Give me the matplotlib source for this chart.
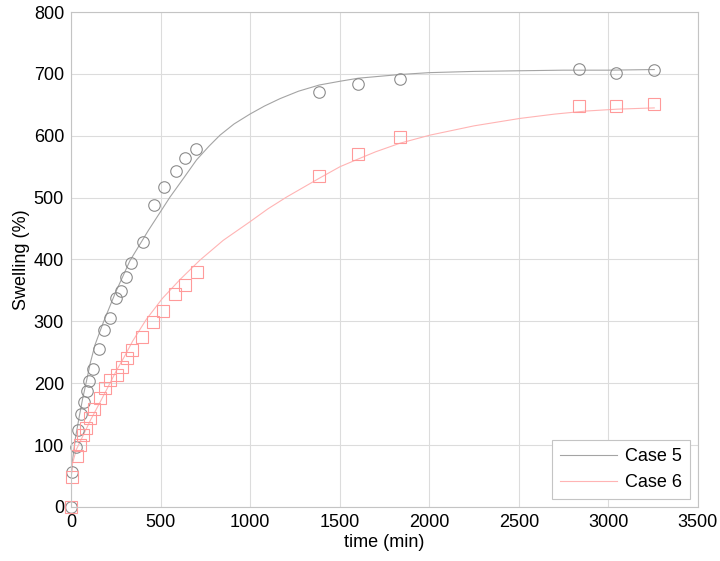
import numpy as np
import matplotlib
matplotlib.use("Agg")
import matplotlib.pyplot as plt

plt.rcParams['font.family'] = ['Liberation Sans', 'DejaVu Sans']

# measured points, case 5 (circles)
t5 = [0, 7, 26, 41, 54, 73, 87, 102, 125, 158, 186, 218, 251, 279, 307, 335,
      402, 463, 519, 586, 636, 698, 1386, 1604, 1837, 2838, 3040, 3256]
s5 = [0, 57, 97, 124, 150, 170, 188, 204, 223, 255, 286, 305, 337, 349, 371, 394,
      428, 488, 517, 543, 564, 578, 671, 683, 691, 708, 701, 706]

# measured points, case 6 (squares)
t6 = [0, 4, 32, 50, 69, 84, 106, 130, 162, 190, 218, 255, 283, 311, 339, 395,
      460, 515, 580, 636, 701, 1386, 1604, 1837, 2838, 3040, 3256]
s6 = [0, 49, 83, 100, 116, 127, 143, 159, 176, 193, 205, 213, 227, 240, 254, 275,
      299, 317, 345, 359, 379, 535, 570, 598, 648, 648, 651]

# fitted curves
fit5_t = [0, 9, 25, 46, 65, 84, 108, 134, 180, 246, 329, 432, 553, 630, 701, 770,
          832, 910, 999, 1080, 1167, 1270, 1386, 1500, 1604, 1720, 1837, 2000,
          2250, 2500, 2750, 3000, 3256]
fit5_s = [45, 76, 112, 146, 175, 200, 233, 262, 298, 345, 398, 447, 501, 532, 561,
          583, 601, 619, 635, 648, 660, 672, 682, 688, 693, 696, 699, 702,
          704, 705, 706, 706, 707]
fit6_t = [0, 9, 30, 65, 110, 158, 205, 251, 300, 344, 420, 510, 610, 720, 850,
          999, 1100, 1204, 1300, 1390, 1502, 1600, 1700, 1837, 2004, 2250, 2506,
          2700, 2879, 3050, 3256]
fit6_s = [45, 71, 93, 114, 141, 167, 193, 219, 244, 268, 303, 337, 368, 399, 431,
          461, 482, 501, 517, 532, 550, 562, 574, 588, 601, 616, 628, 635, 640,
          643, 645]

gray = '#a4a4a4'
pink = '#ffb4b4'

fig = plt.figure(figsize=(7.2, 5.61), dpi=100)
ax = fig.add_axes([0.0986, 0.0963, 0.8708, 0.8823])

ax.plot(fit5_t, fit5_s, color=gray, lw=0.8, label='Case 5')
ax.plot(fit6_t, fit6_s, color=pink, lw=0.8, label='Case 6')
ax.plot(t5, s5, 'o', mfc='none', mec='#8c8c8c', ms=8.3, mew=0.8, clip_on=False)
ax.plot(t6, s6, 's', mfc='none', mec='#ff9a9a', ms=8.3, mew=0.8, clip_on=False)

ax.set_xlim(0, 3500)
ax.set_ylim(0, 800)
ax.set_xticks(np.arange(0, 3501, 500))
ax.set_yticks(np.arange(0, 801, 100))
ax.grid(True, color='#dcdcdc', lw=0.8)
ax.set_axisbelow(True)
for sp in ax.spines.values():
    sp.set_color('#c4c4c4')
    sp.set_linewidth(0.8)
ax.tick_params(direction='in', length=0, labelsize=13, pad=5)

ax.set_xlabel('time (min)', fontsize=13, labelpad=2)
ax.set_ylabel('Swelling (%)', fontsize=13, labelpad=3)

leg = ax.legend(loc='lower right', fontsize=13, fancybox=False, framealpha=1,
                edgecolor='#c4c4c4', handlelength=3.2, handletextpad=0.4,
                borderpad=0.45, borderaxespad=0, bbox_to_anchor=(0.987, 0.016))
leg.get_frame().set_linewidth(0.8)

fig.savefig('out.png', dpi=100)
